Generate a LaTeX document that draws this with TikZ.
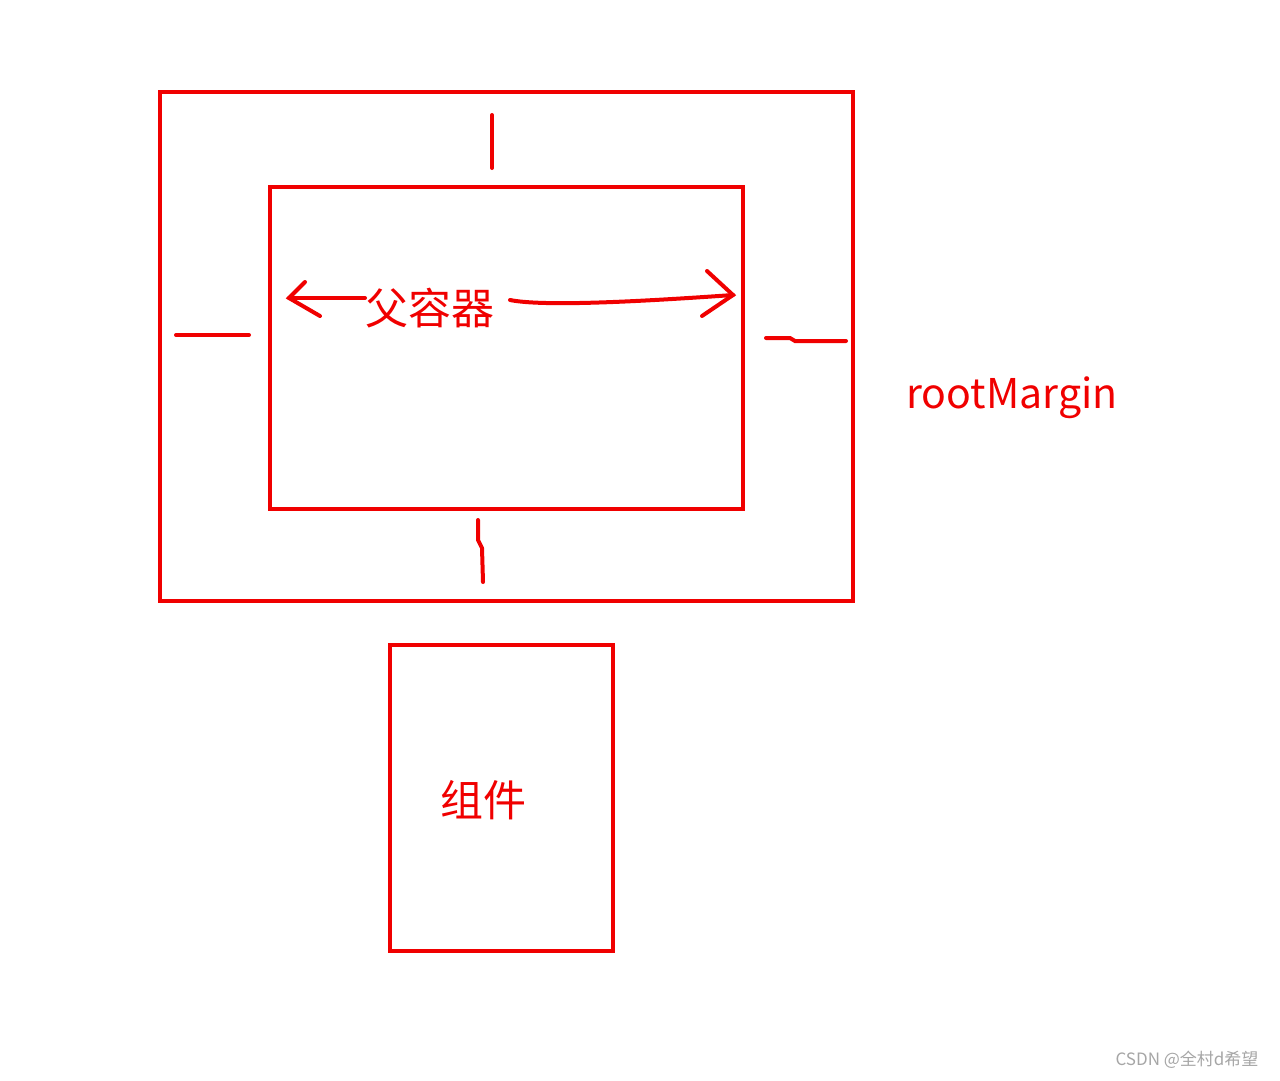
\documentclass[tikz,border=0pt]{standalone}
\usepackage{fontspec}
\setmainfont{Noto Sans CJK SC}
\usetikzlibrary{arrows.meta}
\definecolor{rd}{RGB}{240,0,0}
\tikzset{box/.style={draw=rd,line width=4pt},
 stroke/.style={draw=rd,line width=4pt,line cap=round},
 lbl/.style={text=rd,inner sep=0pt}}
\begin{document}
\begin{tikzpicture}[x=1pt,y=-1pt]
\useasboundingbox (0,0) rectangle (1280,1080);
\draw[box] (160,92) rectangle (853,601);
\draw[box] (270,187) rectangle (743,509);
\draw[box] (390,645) rectangle (613,951);
\coordinate (t1) at (492,115); \coordinate (t2) at (492,168);
\coordinate (l1) at (176,335); \coordinate (l2) at (249,335);
\coordinate (r1) at (766,338); \coordinate (r2) at (846,341);
\coordinate (b1) at (478,520); \coordinate (b2) at (483,582);
\draw[stroke] (t1)--(t2);
\draw[stroke] (l1)--(l2);
\draw[stroke] (r1)--(790,338)--(795,341)--(r2);
\draw[stroke] (b1)--(478,540)--(482,548)--(b2);
\node[lbl,font=\fontsize{43}{46}\selectfont] (p) at (430,308) {父容器};
\coordinate (al) at (289,298); \coordinate (ar) at (733,295);
\coordinate (as) at (365,298);
\draw[stroke] (as)--(al);
\draw[stroke] (305,282)--(al)--(320,316);
\draw[stroke] (510,300) .. controls (540,306) and (620,303) .. (ar);
\draw[stroke] (707,271)--(ar)--(702,316);
\node[lbl,font=\fontsize{41}{44}\selectfont] (rm) at (1012,398) {rootMargin};
\node[lbl,font=\fontsize{43}{46}\selectfont] (c) at (483,800) {组件};
\node[text=gray!70,inner sep=0pt,font=\fontsize{17}{20}\selectfont] (w) at (1187,1060) {CSDN @全村d希望};
\end{tikzpicture}
\end{document}
